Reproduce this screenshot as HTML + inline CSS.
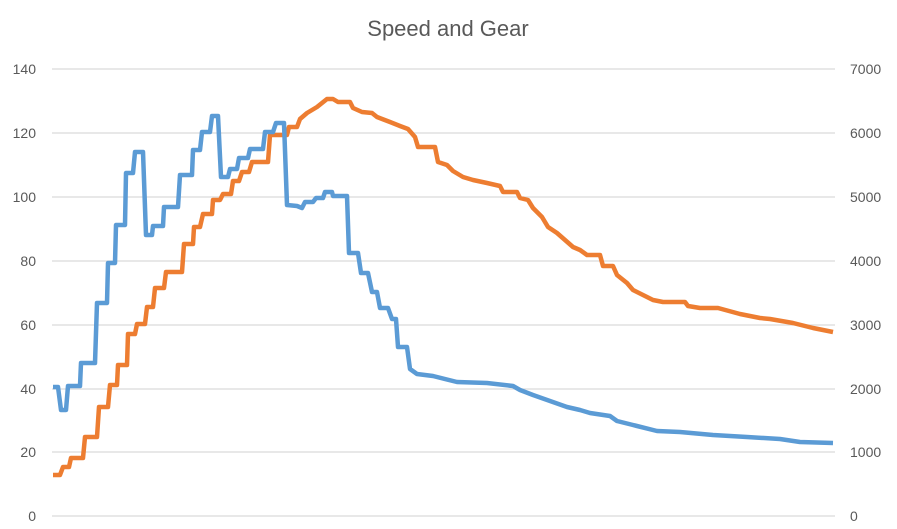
<!DOCTYPE html><html><head><style>body{margin:0;background:#fff}svg{display:block;font-family:"Liberation Sans",sans-serif}</style></head><body>
<svg width="897" height="529" viewBox="0 0 897 529">
<text x="448" y="36" text-anchor="middle" font-size="22" fill="#595959">Speed and Gear</text>
<g stroke="#d9d9d9" stroke-width="1.3">
<line x1="52" x2="835" y1="69" y2="69"/><line x1="52" x2="835" y1="133" y2="133"/><line x1="52" x2="835" y1="197" y2="197"/><line x1="52" x2="835" y1="261" y2="261"/><line x1="52" x2="835" y1="325" y2="325"/><line x1="52" x2="835" y1="389" y2="389"/><line x1="52" x2="835" y1="452" y2="452"/><line x1="52" x2="835" y1="516" y2="516"/></g>
<g font-size="14" fill="#595959" text-anchor="end">
<text x="36" y="74">140</text><text x="36" y="138">120</text><text x="36" y="202">100</text><text x="36" y="266">80</text><text x="36" y="330">60</text><text x="36" y="394">40</text><text x="36" y="457">20</text><text x="36" y="521">0</text></g>
<g font-size="14" fill="#595959" text-anchor="start">
<text x="850" y="74">7000</text><text x="850" y="138">6000</text><text x="850" y="202">5000</text><text x="850" y="266">4000</text><text x="850" y="330">3000</text><text x="850" y="394">2000</text><text x="850" y="457">1000</text><text x="850" y="521">0</text></g>
<polyline fill="none" stroke="#ED7D31" stroke-width="4.5" stroke-linejoin="round" points="53,475 60,475 63,467 69,467 71,458 83,458 85,437 97,437 99,407 108,407 110,385 117,385 118,365 127,365 128,334 135,334 137,324 145,324 147,307 153,307 155,288 164,288 166,272 182,272 184,244 193,244 194,227 200,227 203,214 212,214 213,200 220,200 223,194 231,194 233,181 239,181 242,172 249,172 252,162 268,162 270,135 287,135 289,127 297,127 300,119 307,113 317,107 327,99 333,99 338,102 350,102 353,108 362,112 372,113 377,117 390,122 400,126 408,129 415,137 418,147 435,147 438,162 447,165 453,171 463,177 473,180 487,183 500,186 503,192 517,192 520,198 528,200 533,208 542,217 548,227 557,233 565,240 573,247 580,250 587,255 600,255 603,266 613,266 617,275 627,283 633,290 643,295 653,300 663,302 685,302 688,306 700,308 718,308 740,314 760,318 770,319 793,323 813,328 833,332"/>
<polyline fill="none" stroke="#5B9BD5" stroke-width="4.5" stroke-linejoin="round" points="53,387 58,387 61,410 66,410 68,386 80,386 81,363 95,363 97,303 107,303 108,263 115,263 116,225 125,225 126,173 133,173 135,152 143,152 146,235 152,235 153,226 163,226 164,207 178,207 180,175 192,175 193,150 200,150 202,132 210,132 212,116 218,116 221,177 228,177 230,169 237,169 239,158 248,158 250,149 263,149 265,132 273,132 276,123 284,123 287,205 297,206 302,208 305,202 313,202 316,198 323,198 325,192 332,192 333,196 347,196 349,253 358,253 361,273 368,273 372,292 377,292 380,308 388,308 392,319 396,319 398,347 407,347 410,369 417,374 433,376 457,382 487,383 513,386 520,390 533,395 550,401 567,407 580,410 590,413 610,416 617,421 633,425 657,431 680,432 713,435 747,437 780,439 800,442 833,443"/>
</svg></body></html>
